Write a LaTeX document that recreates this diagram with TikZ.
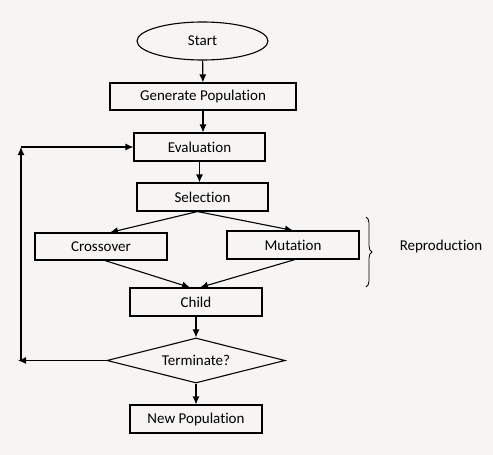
\documentclass[tikz,border=0pt]{standalone}
\usepackage{fontspec}
\setmainfont[Ligatures=NoCommon]{Carlito}
\usetikzlibrary{shapes.geometric,arrows.meta,decorations.pathreplacing}
\definecolor{paper}{RGB}{246,245,244}

\begin{document}
\begin{tikzpicture}[x=1pt, y=-1pt, line width=1.1pt, line join=miter,
  lbl/.style={font=\fontsize{15}{18}\selectfont},
  box/.style={lbl, draw, rectangle, inner sep=0pt, minimum width=132pt, minimum height=28pt},
  flow/.style={-{Latex[length=8pt,width=7pt]}}]

  %% ════ 底色 ════
  \fill[paper] (0,0) rectangle (493,455);

  %% ════ 结点 ════
  \node[lbl, draw, ellipse, inner sep=0pt, minimum width=131pt, minimum height=38pt] (start) at (202.5,41.0) {Start};
  \node[box, minimum width=186pt, minimum height=27pt] (gen) at (203.0,96.5) {Generate Population};
  \node[box, minimum width=131pt] (eval) at (199.5,147.0) {Evaluation};
  \node[box, minimum width=131pt] (sel) at (202.5,197.0) {Selection};
  \node[box, minimum height=27pt] (cross) at (101.0,246.5) {Crossover};
  \node[box] (mut) at (293.0,245.0) {Mutation};
  \node[box] (child) at (196.0,302.0) {Child};
  \node[lbl, draw, diamond, aspect=4, inner sep=0pt, minimum width=178pt, minimum height=45pt] (term) at (196.0,360.5) {Terminate?};
  \node[box] (newpop) at (196.0,419.0) {New Population};
  \node[lbl] (repro) at (441.0,246.0) {Reproduction};

  %% 回路拐角
  \coordinate (lowcorner) at (18.0,360.5);
  \coordinate (upcorner) at (21.0,147.0);

  %% ════ 连线 ════
  \draw[flow] (start) -- (gen);
  \draw[flow] (gen) -- (gen.south |- eval.north);
  \draw[flow] (eval.south) -- (eval.south |- sel.north);
  \draw[flow] ([xshift=-5pt]sel.south) -- ([xshift=9pt]cross.north);
  \draw[flow] ([xshift=-5pt]sel.south) -- (mut.north);
  \draw[flow] ([xshift=4pt]cross.south) -- ([xshift=-6pt]child.north);
  \draw[flow] ([xshift=2pt]mut.south) -- ([xshift=4pt]child.north);
  \draw[flow] (child) -- (term);
  \draw[flow] (term) -- (newpop);

  %% 回到 Evaluation 的环路（三段各带箭头）
  \draw[flow] (term.west) -- (lowcorner);
  \draw[flow] (lowcorner -| upcorner) -- (upcorner);
  \draw[flow] (upcorner) -- (eval.west);

  %% ════ 大括号 ════
  \draw[line width=0.8pt, decorate, decoration={brace, amplitude=6pt}] (366.0,217.0) -- (366.0,287.0);

  \pgfresetboundingbox
  \path[use as bounding box] (0,0) rectangle (493,455);
\end{tikzpicture}
\end{document}
